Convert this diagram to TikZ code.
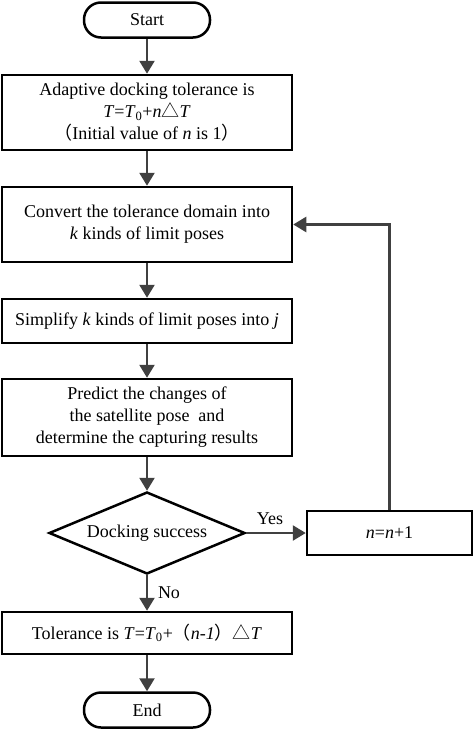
\documentclass[tikz,border=0pt]{standalone}
\usepackage{fontspec}
\setmainfont{Liberation Serif}
\newfontfamily\cjk{Noto Sans CJK SC}
\usetikzlibrary{positioning,arrows.meta,shapes.geometric,calc}
\newcommand{\tri}{{\cjk △}}
\newcommand{\lpar}{{\cjk （}}
\newcommand{\rpar}{{\cjk ）}}
\newcommand{\Tz}{\textit{T}\textsubscript{0}}

\begin{document}
\begin{tikzpicture}[x=1pt,y=-1pt,
    font=\fontsize{18}{22}\selectfont,
    procbox/.style={draw=black, line width=2.5pt, minimum width=290pt, align=center, inner sep=0pt},
    termbox/.style={draw=black, line width=2.5pt, rounded corners=17pt, minimum width=126pt, minimum height=35pt},
    decbox/.style={draw=black, line width=2.5pt, diamond, aspect=2.4, minimum width=196pt, minimum height=82pt, inner sep=0pt},
    flowarrow/.style={draw=black!75, line width=2.5pt, -{Triangle[length=13pt,width=15pt]}}]
    \useasboundingbox (0,0) rectangle (474,731);

    % Terminals
    \node[termbox] (start) at (147,20) {Start};
    \node[termbox] (end) at (147,710) {End};

    % Main steps
    \node[procbox, minimum height=75pt] (init) at (147,112.5)
        {Adaptive docking tolerance is\\ \textit{T}=\Tz+\textit{n}\tri\textit{T}\\ \lpar Initial value of \textit{n} is 1\rpar};
    \node[procbox, minimum height=75pt] (conv) at (147,224.5)
        {Convert the tolerance domain into\\ \textit{k} kinds of limit poses};
    \node[procbox, minimum height=44pt] (simp) at (147,321)
        {Simplify \textit{k} kinds of limit poses into \textit{j}};
    \node[procbox, minimum height=77pt] (pred) at (147,417.5)
        {Predict the changes of\\ the satellite pose\ \ and\\ determine the capturing results};

    % Decision and loop
    \node[decbox] (dock) at (147,533) {Docking success};
    \node[procbox, minimum width=165pt, minimum height=44pt] (inc) at (389.5,533)
        {\textit{n}=\textit{n}+1};
    \node[procbox, minimum height=42pt] (tol) at (147,633)
        {Tolerance is \textit{T}=\Tz+\lpar\textit{n-1}\rpar\tri\textit{T}};

    % Labels
    \node (yes) at (270,519) {Yes};
    \node (no) at (169,593) {No};

    % Connectors
    \draw[flowarrow] (start) -- (init);
    \draw[flowarrow] (init) -- (conv);
    \draw[flowarrow] (conv) -- (simp);
    \draw[flowarrow] (simp) -- (pred);
    \draw[flowarrow] (pred) -- (dock);
    \draw[flowarrow] (dock.east) -- (inc.west);
    \draw[flowarrow] (inc.north) |- (conv.east);
    \draw[flowarrow] (dock) -- (tol);
    \draw[flowarrow] (tol) -- (end);
\end{tikzpicture}
\end{document}
